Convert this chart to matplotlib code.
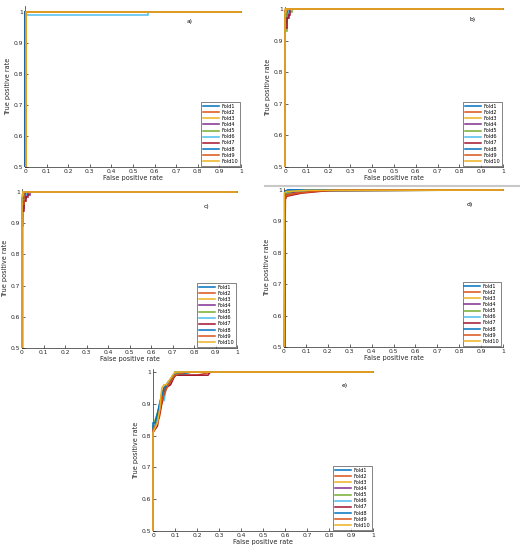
import matplotlib
matplotlib.use("Agg")
import matplotlib.pyplot as plt
from matplotlib.lines import Line2D
from matplotlib.patches import Rectangle

fold_labels = [f"Fold{i}" for i in range(1, 11)]
matlab_colors = ["#0072BD", "#D95319", "#EDB120", "#7E2F8E", "#77AC30",
                 "#4DBEEE", "#A2142F", "#0072BD", "#D95319", "#EDB120"]
panel_labels = ["a)", "b)", "c)", "d)", "e)"]
x_ticks = [0, 0.1, 0.2, 0.3, 0.4, 0.5, 0.6, 0.7, 0.8, 0.9, 1]
y_ticks = [0.5, 0.6, 0.7, 0.8, 0.9, 1]
x_tick_labels = ["0", "0.1", "0.2", "0.3", "0.4", "0.5", "0.6", "0.7", "0.8", "0.9", "1"]
y_tick_labels = ["0.5", "0.6", "0.7", "0.8", "0.9", "1"]

# Panel a
a_fpr = [[0, 0, 1], [0, 0.005, 0.005, 1], [0, 0, 1], [0, 0, 1], [0, 0, 1],
         [0, 0.005, 0.005, 0.57, 0.57, 1], [0, 0, 1], [0, 0, 1], [0, 0.005, 0.005, 1],
         [0, 0.003, 0.003, 1]]
a_tpr = [[0, 1, 1], [0, 0, 1, 1], [0, 1, 1], [0, 1, 1], [0, 1, 1],
         [0, 0, 0.99, 0.99, 1, 1], [0, 1, 1], [0, 1, 1], [0, 0, 1, 1],
         [0, 0, 1, 1]]

# Panel b
b_fpr = [[0, 0, 0.01, 0.01, 0.02, 0.02, 1], [0, 0, 0.005, 0.005, 1], [0, 0, 1],
         [0, 0, 0.015, 0.015, 0.02, 0.02, 1], [0, 0, 0.01, 0.01, 0.03, 0.03, 1],
         [0, 0, 0.02, 0.02, 1], [0, 0, 0.01, 0.01, 0.02, 0.02, 0.025, 0.025, 1],
         [0, 0, 0.01, 0.01, 1], [0, 0, 0.005, 0.005, 1], [0, 0, 0.005, 0.005, 1]]
b_tpr = [[0, 0.96, 0.96, 0.99, 0.99, 1, 1], [0, 0.98, 0.98, 1, 1], [0, 1, 1],
         [0, 0.97, 0.97, 0.99, 0.99, 1, 1], [0, 0.93, 0.93, 0.99, 0.99, 1, 1],
         [0, 0.99, 0.99, 1, 1], [0, 0.94, 0.94, 0.97, 0.97, 0.98, 0.98, 1, 1],
         [0, 0.99, 0.99, 1, 1], [0, 0.995, 0.995, 1, 1], [0, 0.99, 0.99, 1, 1]]

# Panel c
c_fpr = [[0, 0, 0.01, 0.01, 0.02, 0.02, 1], [0, 0, 0.005, 0.005, 0.015, 0.015, 1],
         [0, 0.005, 0.005, 1], [0, 0, 0.02, 0.02, 0.035, 0.035, 1],
         [0, 0, 0.005, 0.005, 0.01, 0.01, 1], [0, 0, 0.01, 0.01, 0.025, 0.025, 1],
         [0, 0, 0.01, 0.01, 0.02, 0.02, 0.03, 0.03, 1], [0, 0, 0.015, 0.015, 1],
         [0, 0, 0.01, 0.01, 1], [0, 0, 0.005, 0.005, 1]]
c_tpr = [[0, 0.95, 0.95, 0.98, 0.98, 1, 1], [0, 0.92, 0.92, 0.97, 0.97, 1, 1],
         [0, 0, 1, 1], [0, 0.98, 0.98, 0.99, 0.99, 1, 1],
         [0, 0.89, 0.89, 0.98, 0.98, 1, 1], [0, 0.97, 0.97, 0.99, 0.99, 1, 1],
         [0, 0.94, 0.94, 0.97, 0.97, 0.985, 0.985, 1, 1], [0, 0.98, 0.98, 1, 1],
         [0, 0.96, 0.96, 1, 1], [0, 0.99, 0.99, 1, 1]]

# Panel d
d_fpr = [[0, 0.005, 0.01, 0.02, 1], [0, 0.005, 0.01, 0.05, 0.1, 0.2, 1],
         [0, 0.005, 0.01, 0.1, 0.3, 1], [0, 0.005, 0.01, 0.1, 1],
         [0, 0.004, 0.01, 0.05, 1], [0, 0.005, 0.02, 1],
         [0, 0.006, 0.012, 0.08, 0.2, 1], [0, 0.004, 0.015, 1],
         [0, 0.006, 0.012, 0.06, 0.15, 0.25, 1], [0, 0.001, 0.01, 0.1, 1]]
d_tpr = [[0, 0.99, 0.995, 1, 1], [0, 0.98, 0.985, 0.99, 0.995, 1, 1],
         [0, 0.985, 0.99, 0.997, 1, 1], [0, 0.98, 0.99, 0.998, 1],
         [0, 0.985, 0.99, 0.997, 1], [0, 0.99, 0.998, 1],
         [0, 0.97, 0.98, 0.99, 0.998, 1], [0, 0.995, 1, 1],
         [0, 0.975, 0.982, 0.99, 0.996, 1, 1], [0, 0.99, 0.995, 0.999, 1]]

# Panel e
e_fpr = [[0, 0, 0.01, 0.02, 0.03, 0.04, 0.05, 0.07, 0.09, 0.1, 1],
         [0, 0, 0.01, 0.03, 0.04, 0.06, 0.08, 0.1, 0.2, 0.27, 1],
         [0, 0, 0.02, 0.03, 0.04, 0.05, 0.07, 0.1, 0.18, 1],
         [0, 0, 0.02, 0.03, 0.05, 0.07, 0.09, 0.12, 1],
         [0, 0, 0.01, 0.025, 0.04, 0.06, 0.08, 0.11, 1],
         [0, 0, 0.02, 0.03, 0.04, 0.05, 0.06, 0.08, 0.1, 0.14, 1],
         [0, 0, 0.02, 0.03, 0.045, 0.06, 0.08, 0.1, 0.25, 0.26, 1],
         [0, 0, 0.01, 0.03, 0.05, 0.07, 0.09, 0.18, 1],
         [0, 0, 0.02, 0.04, 0.05, 0.07, 0.1, 0.15, 1],
         [0, 0, 0.02, 0.03, 0.04, 0.05, 0.06, 0.08, 0.1, 1]]
e_tpr = [[0, 0.82, 0.84, 0.86, 0.9, 0.93, 0.95, 0.97, 0.98, 1, 1],
         [0, 0.81, 0.83, 0.86, 0.9, 0.95, 0.97, 0.99, 0.99, 1, 1],
         [0, 0.81, 0.85, 0.88, 0.94, 0.95, 0.96, 0.99, 1, 1],
         [0, 0.82, 0.85, 0.89, 0.94, 0.96, 0.98, 1, 1],
         [0, 0.83, 0.85, 0.88, 0.92, 0.95, 0.97, 1, 1],
         [0, 0.82, 0.85, 0.88, 0.91, 0.91, 0.95, 0.97, 0.99, 1, 1],
         [0, 0.81, 0.83, 0.87, 0.92, 0.95, 0.96, 0.99, 0.99, 1, 1],
         [0, 0.84, 0.84, 0.9, 0.95, 0.96, 0.99, 1, 1],
         [0, 0.82, 0.84, 0.91, 0.93, 0.96, 0.99, 1, 1],
         [0, 0.81, 0.84, 0.88, 0.95, 0.96, 0.96, 0.98, 1, 1]]

panels_fpr = [a_fpr, b_fpr, c_fpr, d_fpr, e_fpr]
panels_tpr = [a_tpr, b_tpr, c_tpr, d_tpr, e_tpr]

W, H = 520, 550
# pixel geometry: left, right, y(0.5) px, y(1) px, top ylim value
geom = [
    (25, 241, 167, 12, 1.02),
    (285, 503, 167, 9, 1.005),
    (22, 237, 348, 192, 1.01),
    (284, 503, 347, 190, 1.005),
    (153, 373, 531, 372, 1.01),
]
label_pos = [(0.76, 0.97), (0.86, 0.968), (0.86, 0.955), (0.85, 0.955), (0.87, 0.956)]

fig = plt.figure(figsize=(W / 100, H / 100), dpi=100)
fig.patch.set_facecolor("white")
spine_col = "#262626"
fs = 4.3

for k in range(5):
    l, r, yb, y1, ytop = geom[k]
    ppu = (yb - y1) / 0.5
    top_px = yb - (ytop - 0.5) * ppu
    ax = fig.add_axes([l / W, (H - yb) / H, (r - l) / W, (yb - top_px) / H])
    clip = Rectangle((-0.02, 0), 1.04, 1.0, transform=ax.transAxes,
                     facecolor="none", edgecolor="none")
    ax.add_patch(clip)
    for i in range(10):
        ln, = ax.plot(panels_fpr[k][i], panels_tpr[k][i], color=matlab_colors[i],
                      lw=1.1, label=fold_labels[i], solid_joinstyle="miter", zorder=3)
        ln.set_clip_path(clip)
    ax.set_xlim(0, 1)
    ax.set_ylim(0.5, ytop)
    ax.set_xticks(x_ticks)
    ax.set_xticklabels(x_tick_labels)
    ax.set_yticks(y_ticks)
    ax.set_yticklabels(y_tick_labels)
    ax.tick_params(direction="in", length=2, width=0.5, labelsize=fs,
                   colors=spine_col, pad=1.5)
    for s in ["top", "right"]:
        ax.spines[s].set_visible(False)
    for s in ["left", "bottom"]:
        ax.spines[s].set_color(spine_col)
        ax.spines[s].set_linewidth(0.5)
        ax.spines[s].set_zorder(1)
    ax.set_xlabel("False positive rate", fontsize=fs + 0.4, color=spine_col, labelpad=1)
    ax.set_ylabel("True positive rate", fontsize=fs + 0.4, color=spine_col, labelpad=2)
    ax.text(label_pos[k][0], label_pos[k][1], panel_labels[k], fontsize=fs,
            color="black", ha="center", va="center")
    leg = ax.legend(loc="lower right", fontsize=3.6, frameon=True, fancybox=False,
                    edgecolor=spine_col, handlelength=3.2, handletextpad=0.5,
                    labelspacing=0.22, borderpad=0.35, borderaxespad=0.3)
    leg.get_frame().set_linewidth(0.5)
    leg.set_zorder(5)

# gray separator line seen above panel d
fig.add_artist(Line2D([265 / W, 1.0], [(H - 186) / H, (H - 186) / H],
                      color="#c8c8c8", lw=1.5))

fig.savefig("out.png", dpi=100, facecolor="white")
